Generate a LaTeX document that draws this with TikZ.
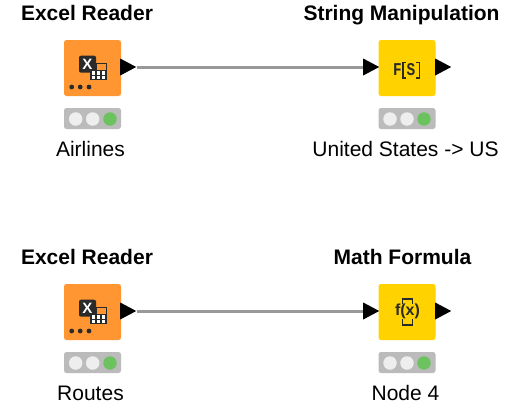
\documentclass[tikz,border=0pt]{standalone}
\usepackage{fontspec}
\setmainfont{Liberation Sans}
\newfontfamily\gliffont{Liberation Mono}
\usetikzlibrary{shapes.geometric}
\definecolor{korange}{HTML}{FF9632}
\definecolor{kyellow}{HTML}{FFD200}
\definecolor{kgrey}{HTML}{BBBBBB}
\definecolor{kdark}{HTML}{2A2A2A}
\definecolor{klamp}{HTML}{EEEEEE}
\definecolor{kgreen}{HTML}{6CC25E}
\tikzset{
  nodebox/.style={rounded corners=2.5pt,minimum width=57pt,minimum height=56pt,inner sep=0pt,draw=none},
  statusbar/.style={fill=kgrey,rounded corners=2.5pt,minimum width=57pt,minimum height=21pt,inner sep=0pt},
  lamp/.style={circle,minimum size=13.5pt,inner sep=0pt,fill=#1},
  port/.style={isosceles triangle,isosceles triangle apex angle=56,isosceles triangle stretches,
    minimum width=17pt,minimum height=16pt,inner sep=0pt,fill=black,anchor=west},
  conn/.style={draw=black!40,line width=3pt},
  title/.style={font=\bfseries\fontsize{21}{23}\selectfont,inner sep=0pt,anchor=base},
  caption/.style={font=\fontsize{21}{23}\selectfont,inner sep=0pt,anchor=base},
  iconline/.style={draw=kdark,line width=1.5pt},
  gliff/.style={font=\gliffont\bfseries\fontsize{18}{18}\selectfont,text=kdark,inner sep=0pt,xscale=0.8},
}
\newcommand{\excelicon}[2]{%
  \begin{scope}[shift={(#1,#2)}]
    \fill[kdark,rounded corners=2pt] (79,55.7) rectangle (96,72.7);
    \fill[kdark] (90,69.5) rectangle (106.7,80);
    \draw[kdark,line width=1pt,fill=korange] (96,63.2) rectangle (106.2,70);
    \foreach \cx in {93.5,98.5,103.5}{\foreach \cy in {72.8,77.4}{\fill[white] (\cx-1.7,\cy-1.7) rectangle (\cx+1.7,\cy+1.7);}}
    \node[font=\bfseries\fontsize{15}{15}\selectfont,text=white,inner sep=0pt] at (87.5,64) {X};
    \foreach \cx in {71.7,80.2,89}{\fill[kdark] (\cx,87) circle (2.4);}
  \end{scope}}
\begin{document}
\begin{tikzpicture}[x=1pt,y=-1pt]
\useasboundingbox (0,0) rectangle (512,408);
\fill[white] (0,0) rectangle (512,408);
% first row
\node[nodebox,fill=korange] (n1) at (92.5,68) {};
\excelicon{0}{0}
\node[port] (n1o) at (120,67) {};
\node[statusbar] (s1) at (92.5,118.5) {};
\node[lamp=klamp] (s1a) at (75.7,119) {};
\node[lamp=klamp] (s1b) at (92.7,119) {};
\node[lamp=kgreen] (s1c) at (110,119) {};
\node[title] (t1) at (87,20.7) {Excel Reader};
\node[caption] (c1) at (90.5,156.7) {Airlines};
\node[nodebox,fill=kyellow] (n2) at (407,68) {};
\node[port] (n2i) at (363,67) {};
\node[port] (n2o) at (435,67) {};
\node[gliff] (g2f) at (397.5,70) {F};
\node[gliff] (g2s) at (411,70) {S};
\draw[iconline] (406,62.7) -- (403,62.7) -- (403,78) -- (406,78);
\draw[iconline] (416,62.7) -- (419.3,62.7) -- (419.3,78) -- (416,78);
\node[statusbar] (s2) at (407,118.5) {};
\node[lamp=klamp] (s2a) at (390,119) {};
\node[lamp=klamp] (s2b) at (407,119) {};
\node[lamp=kgreen] (s2c) at (424,119) {};
\node[title] (t2) at (401.5,20.7) {String Manipulation};
\node[caption] (c2) at (405.5,156.7) {United States -> US};
\draw[conn] (n1o.east) -- (n2i.west);
% second row
\node[nodebox,fill=korange] (n3) at (92.5,312) {};
\excelicon{0}{244}
\node[port] (n3o) at (120,311) {};
\node[statusbar] (s3) at (92.5,362.5) {};
\node[lamp=klamp] (s3a) at (75.7,363) {};
\node[lamp=klamp] (s3b) at (92.7,363) {};
\node[lamp=kgreen] (s3c) at (110,363) {};
\node[title] (t3) at (87,264.7) {Excel Reader};
\node[caption] (c3) at (90.5,400.7) {Routes};
\node[nodebox,fill=kyellow] (n4) at (407,312) {};
\node[port] (n4i) at (363,311) {};
\node[port] (n4o) at (435,311) {};
\draw[iconline] (402.5,304) -- (402.5,299) -- (412.5,299) -- (412.5,304);
\draw[iconline] (402.5,319) -- (402.5,325) -- (412.5,325) -- (412.5,319);
\node[font=\bfseries\fontsize{16}{16}\selectfont,text=kdark,inner sep=0pt] (g4) at (407.5,311.5) {f(x)};
\node[statusbar] (s4) at (407,362.5) {};
\node[lamp=klamp] (s4a) at (390,363) {};
\node[lamp=klamp] (s4b) at (407,363) {};
\node[lamp=kgreen] (s4c) at (424,363) {};
\node[title] (t4) at (402.5,264.7) {Math Formula};
\node[caption] (c4) at (405.5,400.7) {Node 4};
\draw[conn] (n3o.east) -- (n4i.west);
\end{tikzpicture}
\end{document}
